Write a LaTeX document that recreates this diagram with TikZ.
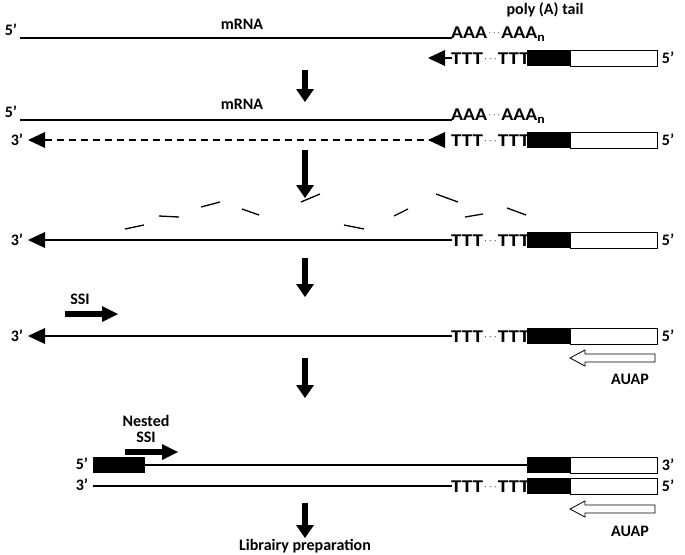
\documentclass[tikz,border=0pt]{standalone}
\usepackage{fontspec}
\setmainfont{Carlito}
\usetikzlibrary{arrows.meta}
\begin{document}
\begin{tikzpicture}[x=1pt,y=-1pt,
  lbl/.style={font=\bfseries\fontsize{16}{17}\selectfont,inner sep=0pt},
  strand/.style={line width=1.3pt},
  frag/.style={line width=1.3pt},
  tt/.style={font=\bfseries\fontsize{18}{18}\selectfont,inner sep=0pt,anchor=west}]
\useasboundingbox (0,0) rectangle (685,554);
\newcommand{\down}[3]{\fill (#1-3,#2) rectangle (#1+3,#3-12); \fill (#1-9,#3-13) -- (#1+9,#3-13) -- (#1,#3) -- cycle;}
\newcommand{\cass}[1]{\fill (527,#1-8) rectangle (570,#1+8); \draw[line width=0.8pt] (570,#1-8) rectangle (657,#1+8);}
\newcommand{\tdots}{\hspace{1pt}\raisebox{0.35ex}{\fontsize{9}{9}\selectfont$\cdots$}\hspace{1pt}}
\newcommand{\tee}[2]{\node[tt] at (451,#1) {\scalebox{1.17}[1]{TTT\tdots TTT}};}
\newcommand{\aaa}[1]{\node[tt] at (451,#1) {\scalebox{1.1}[1]{AAA\tdots AAA\textsubscript{n}}};}
\newcommand{\lhead}[2]{\fill (#1,#2) -- (#1+17,#2-8) -- (#1+17,#2+8) -- cycle;}
\newcommand{\hollow}[1]{\draw[line width=0.8pt,fill=white] (570,#1) -- (585,#1-8) -- (585,#1-4) -- (655,#1-4) -- (655,#1+4) -- (585,#1+4) -- (585,#1+8) -- cycle;}
\newcommand{\rarrow}[3]{\fill (#1,#3-3) rectangle (#2-15,#3+3); \fill (#2-16,#3-8) -- (#2,#3) -- (#2-16,#3+8) -- cycle;}
% row 1
\node[lbl] at (11,30) {5’};
\node[lbl] at (242,24) {mRNA};
\node[lbl] at (545,10) {poly (A) tail};
\draw[strand] (20,38) -- (452,38);
\aaa{34}
\lhead{428}{58}
\draw[strand] (440,58) -- (452,58);
\tee{59}{}
\cass{58}
\node[lbl] at (668,58) {5’};
\down{305}{70}{102}
% row 2
\node[lbl] at (11,112) {5’};
\node[lbl] at (242,104) {mRNA};
\draw[strand] (20,120) -- (452,120);
\aaa{116}
\node[lbl] at (17,140) {3’};
\lhead{28}{140}
\draw[strand,dashed,dash pattern=on 7pt off 5pt] (45,140) -- (430,140);
\lhead{428}{140}
\tee{141}{}
\cass{140}
\node[lbl] at (668,140) {5’};
\down{305}{150}{198}
% row 3
\foreach \a/\b/\c/\d in {125/229/144/225,159/216/179/217,201/207/220/202,242/209/259/215,301/202/320/194,344/225/364/229,394/216/408/209,436/194/458/202,465/217/483/214,507/208/526/215}
  \draw[frag] (\a,\b) -- (\c,\d);
\node[lbl] at (17,240) {3’};
\lhead{28}{240}
\draw[strand] (45,240) -- (452,240);
\tee{241}{}
\cass{240}
\node[lbl] at (668,240) {5’};
\down{305}{258}{297}
% row 4
\node[lbl] at (80,299) {SSI};
\rarrow{65}{118}{314}
\node[lbl] at (17,336) {3’};
\lhead{28}{336}
\draw[strand] (45,336) -- (452,336);
\tee{337}{}
\cass{336}
\node[lbl] at (668,336) {5’};
\hollow{358}
\node[lbl] at (630,379) {AUAP};
\down{305}{358}{398}
% row 5
\node[lbl] at (146,421) {Nested};
\node[lbl] at (146,437) {SSI};
\rarrow{125}{178}{452}
\node[lbl] at (82,464) {5’};
\fill (93,457) rectangle (145,473);
\draw[strand] (145,465) -- (527,465);
\cass{465}
\node[lbl] at (668,465) {3’};
\node[lbl] at (82,485) {3’};
\draw[strand] (93,486) -- (452,486);
\tee{487}{}
\cass{486}
\node[lbl] at (668,486) {5’};
\hollow{509}
\node[lbl] at (630,531) {AUAP};
\down{305}{503}{538}
\node[lbl] at (305,546) {Librairy preparation};
\end{tikzpicture}
\end{document}
